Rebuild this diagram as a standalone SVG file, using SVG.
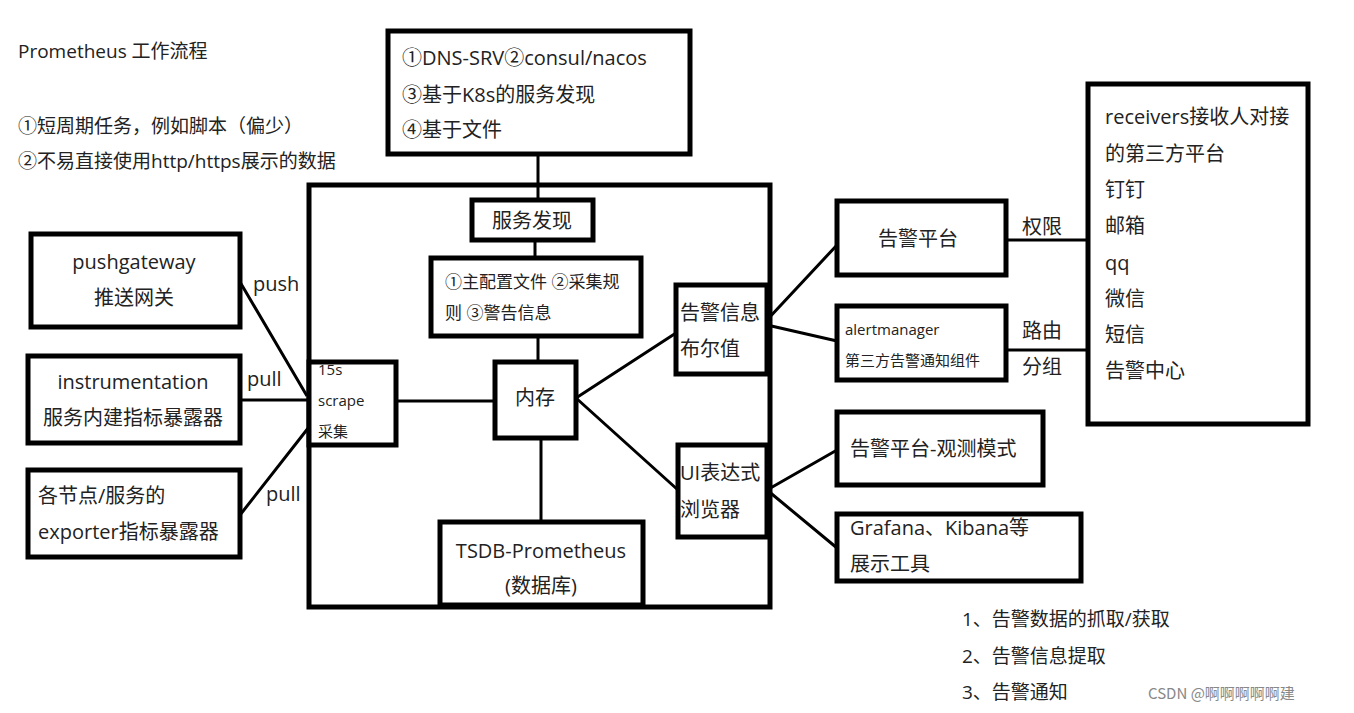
<svg xmlns="http://www.w3.org/2000/svg" width="1354" height="713" viewBox="0 0 1354 713">
<style>
text{font-family:"Open Sans","Noto Sans CJK SC",sans-serif;fill:#222;font-size:20px}
.b{fill:#fff;stroke:#000;stroke-width:5}
.l{stroke:#000;stroke-width:3;fill:none}
.s{font-size:15px}.m{font-size:17px}.c{text-anchor:middle}
</style>
<rect width="1354" height="713" fill="#fff"/>
<text x="18" y="58" style="font-size:19px">Prometheus 工作流程</text>
<text x="18" y="133" style="font-size:19px">①短周期任务，例如脚本（偏少）</text>
<text x="18" y="168" style="font-size:19px">②不易直接使用http/https展示的数据</text>
<g id="prometheus"><rect class="b" x="309" y="185" width="461" height="422"/></g>
<g id="connectors">
<path class="l" d="M538 154V200M535 240V258M538 336V362M396 401H495M541 438V522M576 398L676 333M576 398L678 490M767 320L837 245M767 325L837 341M1006 240H1088M1006 350H1088M767 490L837 450M767 490L837 548M240 282L307 396M240 400H309M240 515L309 427"/>
</g>
<g id="sd"><rect class="b" x="388" y="31" width="302" height="123"/>
<text x="402" y="65">①DNS-SRV②consul/nacos</text><text x="402" y="102">③基于K8s的服务发现</text><text x="402" y="137">④基于文件</text></g>
<g id="fuwu"><rect class="b" x="472" y="200" width="121" height="40"/><text class="c" x="532" y="228">服务发现</text></g>
<g id="cfg"><rect class="b" x="431" y="258" width="210" height="78"/><text class="m" x="445" y="288">①主配置文件 ②采集规</text><text class="m" x="445" y="319">则 ③警告信息</text></g>
<g id="mem"><rect class="b" x="495" y="362" width="81" height="76"/><text class="c" x="535" y="405">内存</text></g>
<g id="scrape"><rect class="b" x="309" y="362" width="87" height="83"/><text class="s" x="318" y="375">15s</text><text class="s" x="318" y="406">scrape</text><text class="s" x="318" y="437">采集</text></g>
<g id="tsdb"><rect class="b" x="440" y="522" width="203" height="83"/><text class="c" x="541" y="558">TSDB-Prometheus</text><text class="c" x="541" y="593">(数据库)</text></g>
<g id="alertinfo"><rect class="b" x="676" y="285" width="91" height="89"/><text x="680" y="320">告警信息</text><text x="680" y="356">布尔值</text></g>
<g id="ui"><rect class="b" x="678" y="445" width="89" height="92"/><text x="680" y="480">UI表达式</text><text x="680" y="517">浏览器</text></g>
<g id="platform"><rect class="b" x="837" y="201" width="169" height="74"/><text class="c" x="918" y="246">告警平台</text></g>
<g id="am"><rect class="b" x="837" y="306" width="169" height="74"/><text class="s" x="845" y="335">alertmanager</text><text class="s" x="845" y="366">第三方告警通知组件</text></g>
<text x="1022" y="234">权限</text><text x="1022" y="338">路由</text><text x="1022" y="374">分组</text>
<g id="recv"><rect class="b" x="1088" y="84" width="220" height="340"/>
<text x="1105" y="124">receivers接收人对接</text><text x="1105" y="161">的第三方平台</text><text x="1105" y="197">钉钉</text><text x="1105" y="233">邮箱</text><text x="1105" y="270">qq</text><text x="1105" y="306">微信</text><text x="1105" y="342">短信</text><text x="1105" y="378">告警中心</text></g>
<g id="obs"><rect class="b" x="837" y="412" width="206" height="73"/><text x="850" y="456">告警平台-观测模式</text></g>
<g id="grafana"><rect class="b" x="837" y="514" width="244" height="67"/><text x="850" y="535">Grafana、Kibana等</text><text x="850" y="571">展示工具</text></g>
<g id="push"><rect class="b" x="31" y="234" width="209" height="93"/><text class="c" x="134" y="269">pushgateway</text><text class="c" x="134" y="305">推送网关</text></g>
<g id="instr"><rect class="b" x="28" y="356" width="212" height="87"/><text class="c" x="133" y="389">instrumentation</text><text class="c" x="133" y="425">服务内建指标暴露器</text></g>
<g id="exp"><rect class="b" x="28" y="470" width="212" height="87"/><text x="38" y="503">各节点/服务的</text><text x="38" y="539">exporter指标暴露器</text></g>
<text x="253" y="291">push</text><text x="247" y="386">pull</text><text x="266" y="501">pull</text>
<text x="962" y="626" style="font-size:19px">1、告警数据的抓取/获取</text>
<text x="962" y="663" style="font-size:19px">2、告警信息提取</text>
<text x="962" y="699" style="font-size:19px">3、告警通知</text>
<text x="1148" y="699" style="font-size:15px;fill:#888;font-family:'Noto Sans CJK SC',sans-serif">CSDN @啊啊啊啊啊建</text>
</svg>
